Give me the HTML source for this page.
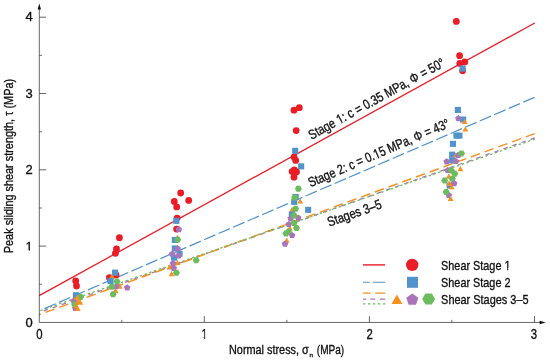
<!DOCTYPE html>
<html lang="en"><head><meta charset="utf-8"><title>Peak sliding shear strength vs normal stress</title>
<style>html,body{margin:0;padding:0;background:#fff}svg{display:block}text{font-family:"Liberation Sans",sans-serif;stroke:#111;stroke-width:.35px}</style></head><body>
<svg width="550" height="362" viewBox="0 0 550 362"  font-size="13.5" fill="#111">
<rect width="550" height="362" fill="#fff"/>
<line x1="39.20" y1="312.53" x2="534.75" y2="137.83" stroke="#a974b9" stroke-width="1.3" stroke-dasharray="4.5 5.06" stroke-dashoffset="4.86"/>
<line x1="39.20" y1="314.71" x2="534.75" y2="133.62" stroke="#f6911e" stroke-width="1.45" stroke-dasharray="9.6 5.01" stroke-dashoffset="7.9"/>
<line x1="39.20" y1="310.93" x2="534.75" y2="139.12" stroke="#6cbc5e" stroke-width="1.3" stroke-dasharray="2.4 2.612" stroke-dashoffset="3.8"/>
<line x1="44.43" y1="308.60" x2="534.75" y2="97.23" stroke="#5293cc" stroke-width="1.25" stroke-dasharray="12.3 3.5" stroke-dashoffset="0"/>
<line x1="39.20" y1="295.60" x2="534.75" y2="22.99" stroke="#ea1d27" stroke-width="1.3"/>
<circle cx="75.7" cy="281.0" r="3.4" fill="#ea1d27"/>
<circle cx="76.5" cy="286.0" r="3.4" fill="#ea1d27"/>
<rect x="72.9" y="292.2" width="6.1" height="6.1" fill="#5293cc"/>
<polygon points="73.7,297.5 77.0,299.9 75.7,303.7 71.7,303.7 70.4,299.9" fill="#a974b9"/>
<polygon points="75.3,304.8 78.6,307.2 77.3,311.0 73.3,311.0 72.0,307.2" fill="#a974b9"/>
<polygon points="78.2,304.6 76.5,307.6 73.0,307.6 71.2,304.6 73.0,301.6 76.5,301.6" fill="#6cbc5e"/>
<polygon points="84.1,297.0 82.3,300.0 78.8,300.0 77.1,297.0 78.8,294.0 82.3,294.0" fill="#6cbc5e"/>
<polygon points="77.0,294.5 80.0,299.7 74.0,299.7" fill="#f6911e"/>
<polygon points="80.3,299.5 83.2,304.7 77.3,304.7" fill="#f6911e"/>
<polygon points="78.2,298.7 81.2,303.9 75.2,303.9" fill="#f6911e"/>
<polygon points="76.3,303.4 79.2,308.6 73.3,308.6" fill="#f6911e"/>
<polygon points="77.7,305.9 80.7,311.1 74.8,311.1" fill="#f6911e"/>
<circle cx="119.4" cy="237.7" r="3.4" fill="#ea1d27"/>
<circle cx="116.5" cy="249.0" r="3.4" fill="#ea1d27"/>
<circle cx="115.4" cy="253.4" r="3.4" fill="#ea1d27"/>
<circle cx="116.0" cy="274.9" r="3.4" fill="#ea1d27"/>
<circle cx="109.4" cy="277.7" r="3.4" fill="#ea1d27"/>
<rect x="112.0" y="269.6" width="6.1" height="6.1" fill="#5293cc"/>
<polygon points="112.0,273.8 115.0,279.0 109.0,279.0" fill="#f6911e"/>
<rect x="107.5" y="277.9" width="6.1" height="6.1" fill="#5293cc"/>
<polygon points="119.7,283.6 122.7,288.8 116.8,288.8" fill="#f6911e"/>
<polygon points="115.5,287.8 118.5,293.0 112.5,293.0" fill="#f6911e"/>
<polygon points="116.2,283.1 119.5,285.5 118.2,289.3 114.2,289.3 112.9,285.5" fill="#a974b9"/>
<polygon points="127.2,284.3 130.5,286.7 129.2,290.5 125.2,290.5 123.9,286.7" fill="#a974b9"/>
<polygon points="120.4,281.5 118.7,284.5 115.2,284.5 113.4,281.5 115.2,278.5 118.7,278.5" fill="#6cbc5e"/>
<polygon points="115.2,286.8 113.5,289.8 110.0,289.8 108.2,286.8 110.0,283.8 113.5,283.8" fill="#6cbc5e"/>
<polygon points="116.6,294.2 114.8,297.2 111.3,297.2 109.6,294.2 111.3,291.2 114.8,291.2" fill="#6cbc5e"/>
<circle cx="180.7" cy="193.0" r="3.4" fill="#ea1d27"/>
<circle cx="188.7" cy="200.4" r="3.4" fill="#ea1d27"/>
<circle cx="174.3" cy="201.5" r="3.4" fill="#ea1d27"/>
<circle cx="176.7" cy="206.9" r="3.4" fill="#ea1d27"/>
<circle cx="177.1" cy="218.1" r="3.4" fill="#ea1d27"/>
<circle cx="176.6" cy="229.1" r="3.4" fill="#ea1d27"/>
<rect x="173.3" y="217.8" width="6.1" height="6.1" fill="#5293cc"/>
<polygon points="178.8,226.0 182.1,228.4 180.8,232.2 176.8,232.2 175.5,228.4" fill="#a974b9"/>
<polygon points="177.5,234.7 180.4,239.9 174.6,239.9" fill="#f6911e"/>
<rect x="171.8" y="236.9" width="6.1" height="6.1" fill="#5293cc"/>
<polygon points="181.2,239.8 179.4,242.8 175.9,242.8 174.2,239.8 175.9,236.8 179.4,236.8" fill="#6cbc5e"/>
<rect x="171.8" y="245.4" width="6.1" height="6.1" fill="#5293cc"/>
<rect x="176.5" y="250.8" width="6.1" height="6.1" fill="#5293cc"/>
<rect x="171.0" y="254.6" width="6.1" height="6.1" fill="#5293cc"/>
<polygon points="177.5,259.9 180.4,265.1 174.6,265.1" fill="#f6911e"/>
<polygon points="169.4,264.2 172.3,269.4 166.5,269.4" fill="#f6911e"/>
<polygon points="171.6,271.1 174.5,276.3 168.7,276.3" fill="#f6911e"/>
<polygon points="177.7,245.3 181.0,247.7 179.7,251.5 175.7,251.5 174.4,247.7" fill="#a974b9"/>
<polygon points="172.2,250.5 175.5,252.9 174.2,256.7 170.2,256.7 168.9,252.9" fill="#a974b9"/>
<polygon points="178.8,252.4 182.1,254.8 180.8,258.6 176.8,258.6 175.5,254.8" fill="#a974b9"/>
<polygon points="173.0,259.9 176.3,262.3 175.0,266.1 171.0,266.1 169.7,262.3" fill="#a974b9"/>
<polygon points="173.8,264.9 177.1,267.3 175.8,271.1 171.8,271.1 170.5,267.3" fill="#a974b9"/>
<polygon points="179.9,272.7 178.2,275.7 174.7,275.7 172.9,272.7 174.7,269.7 178.2,269.7" fill="#6cbc5e"/>
<polygon points="199.7,260.2 197.9,263.2 194.4,263.2 192.7,260.2 194.4,257.2 197.9,257.2" fill="#6cbc5e"/>
<circle cx="299.3" cy="107.7" r="3.4" fill="#ea1d27"/>
<circle cx="294.0" cy="110.2" r="3.4" fill="#ea1d27"/>
<circle cx="296.2" cy="130.6" r="3.4" fill="#ea1d27"/>
<rect x="292.1" y="147.8" width="6.1" height="6.1" fill="#5293cc"/>
<circle cx="294.0" cy="157.1" r="3.4" fill="#ea1d27"/>
<circle cx="295.7" cy="160.4" r="3.4" fill="#ea1d27"/>
<rect x="298.1" y="163.3" width="6.1" height="6.1" fill="#5293cc"/>
<circle cx="294.3" cy="169.8" r="3.4" fill="#ea1d27"/>
<circle cx="292.1" cy="171.6" r="3.4" fill="#ea1d27"/>
<circle cx="296.5" cy="171.9" r="3.4" fill="#ea1d27"/>
<circle cx="294.0" cy="177.2" r="3.4" fill="#ea1d27"/>
<polygon points="301.9,188.8 300.1,191.8 296.6,191.8 294.9,188.8 296.6,185.8 300.1,185.8" fill="#6cbc5e"/>
<rect x="292.6" y="193.9" width="6.1" height="6.1" fill="#5293cc"/>
<rect x="291.2" y="198.8" width="6.1" height="6.1" fill="#5293cc"/>
<polygon points="300.2,198.4 303.1,203.6 297.2,203.6" fill="#f6911e"/>
<polygon points="298.2,197.5 296.4,200.5 292.9,200.5 291.2,197.5 292.9,194.5 296.4,194.5" fill="#6cbc5e"/>
<polygon points="292.1,206.7 295.1,211.9 289.2,211.9" fill="#f6911e"/>
<polygon points="299.1,208.7 297.4,211.7 293.9,211.7 292.1,208.7 293.9,205.7 297.4,205.7" fill="#6cbc5e"/>
<rect x="305.1" y="206.8" width="6.1" height="6.1" fill="#5293cc"/>
<rect x="288.8" y="211.5" width="6.1" height="6.1" fill="#5293cc"/>
<polygon points="290.7,215.2 294.0,217.6 292.7,221.4 288.7,221.4 287.4,217.6" fill="#a974b9"/>
<polygon points="298.2,214.4 301.5,216.8 300.2,220.6 296.2,220.6 294.9,216.8" fill="#a974b9"/>
<polygon points="289.9,225.3 292.8,230.5 286.9,230.5" fill="#f6911e"/>
<polygon points="288.8,220.9 292.1,223.3 290.8,227.1 286.8,227.1 285.5,223.3" fill="#a974b9"/>
<polygon points="297.7,215.6 295.9,218.6 292.4,218.6 290.7,215.6 292.4,212.6 295.9,212.6" fill="#6cbc5e"/>
<polygon points="297.6,222.9 295.9,225.9 292.4,225.9 290.6,222.9 292.4,219.9 295.9,219.9" fill="#6cbc5e"/>
<polygon points="300.0,227.9 298.2,230.9 294.8,230.9 293.0,227.9 294.8,224.9 298.2,224.9" fill="#6cbc5e"/>
<polygon points="289.5,233.6 287.8,236.6 284.2,236.6 282.5,233.6 284.2,230.6 287.8,230.6" fill="#6cbc5e"/>
<polygon points="292.1,231.4 290.4,234.4 286.9,234.4 285.1,231.4 286.9,228.4 290.4,228.4" fill="#6cbc5e"/>
<polygon points="292.1,231.9 295.4,234.3 294.1,238.1 290.1,238.1 288.8,234.3" fill="#a974b9"/>
<polygon points="286.7,237.6 289.6,242.8 283.8,242.8" fill="#f6911e"/>
<polygon points="285.0,240.6 288.3,243.0 287.0,246.8 283.0,246.8 281.7,243.0" fill="#a974b9"/>
<circle cx="456.3" cy="21.4" r="3.4" fill="#ea1d27"/>
<circle cx="459.6" cy="55.7" r="3.4" fill="#ea1d27"/>
<circle cx="464.8" cy="61.9" r="3.4" fill="#ea1d27"/>
<circle cx="459.8" cy="63.4" r="3.4" fill="#ea1d27"/>
<circle cx="462.6" cy="70.7" r="3.4" fill="#ea1d27"/>
<rect x="459.6" y="65.5" width="6.1" height="6.1" fill="#5293cc"/>
<rect x="454.8" y="106.9" width="6.1" height="6.1" fill="#5293cc"/>
<rect x="460.1" y="116.5" width="6.1" height="6.1" fill="#5293cc"/>
<polygon points="458.4,115.1 461.7,117.5 460.4,121.3 456.4,121.3 455.1,117.5" fill="#a974b9"/>
<polygon points="464.6,118.9 467.6,124.1 461.7,124.1" fill="#f6911e"/>
<polygon points="465.3,126.4 468.2,131.6 462.4,131.6" fill="#f6911e"/>
<rect x="453.4" y="132.6" width="6.1" height="6.1" fill="#5293cc"/>
<rect x="456.4" y="132.6" width="6.1" height="6.1" fill="#5293cc"/>
<rect x="449.9" y="140.8" width="6.1" height="6.1" fill="#5293cc"/>
<rect x="449.1" y="151.6" width="6.1" height="6.1" fill="#5293cc"/>
<polygon points="455.8,152.4 458.8,157.6 452.9,157.6" fill="#f6911e"/>
<polygon points="458.2,151.8 461.5,154.2 460.2,158.0 456.2,158.0 454.9,154.2" fill="#a974b9"/>
<polygon points="465.0,153.4 463.2,156.4 459.8,156.4 458.0,153.4 459.8,150.4 463.2,150.4" fill="#6cbc5e"/>
<rect x="449.1" y="157.3" width="6.1" height="6.1" fill="#5293cc"/>
<polygon points="446.7,158.2 450.0,160.6 448.7,164.4 444.7,164.4 443.4,160.6" fill="#a974b9"/>
<polygon points="455.8,157.8 459.1,160.2 457.8,164.0 453.8,164.0 452.5,160.2" fill="#a974b9"/>
<polygon points="460.4,166.0 463.3,171.2 457.4,171.2" fill="#f6911e"/>
<polygon points="447.7,166.9 451.0,169.3 449.7,173.1 445.7,173.1 444.4,169.3" fill="#a974b9"/>
<polygon points="454.9,170.5 453.1,173.5 449.6,173.5 447.9,170.5 449.6,167.5 453.1,167.5" fill="#6cbc5e"/>
<polygon points="458.3,173.7 456.6,176.7 453.1,176.7 451.3,173.7 453.1,170.7 456.6,170.7" fill="#6cbc5e"/>
<polygon points="448.8,173.6 451.8,178.8 445.9,178.8" fill="#f6911e"/>
<polygon points="455.8,178.7 454.1,181.7 450.6,181.7 448.8,178.7 450.6,175.7 454.1,175.7" fill="#6cbc5e"/>
<polygon points="448.1,180.5 446.4,183.5 442.9,183.5 441.1,180.5 442.9,177.5 446.4,177.5" fill="#6cbc5e"/>
<rect x="446.6" y="182.5" width="6.1" height="6.1" fill="#5293cc"/>
<polygon points="454.2,180.0 457.5,182.4 456.2,186.2 452.2,186.2 450.9,182.4" fill="#a974b9"/>
<polygon points="449.1,180.6 452.1,185.8 446.2,185.8" fill="#f6911e"/>
<polygon points="451.7,184.0 454.6,189.2 448.8,189.2" fill="#f6911e"/>
<polygon points="448.8,191.8 452.1,194.2 450.8,198.0 446.8,198.0 445.5,194.2" fill="#a974b9"/>
<polygon points="449.7,192.1 447.9,195.1 444.4,195.1 442.7,192.1 444.4,189.1 447.9,189.1" fill="#6cbc5e"/>
<polygon points="450.6,195.8 453.6,201.0 447.7,201.0" fill="#f6911e"/>
<g stroke="#333" stroke-width="0.75" fill="none">
<path d="M39.3 8 V322.45 H541"/>
<path d="M39.3 246.1 h6.8"/>
<path d="M39.3 169.8 h6.8"/>
<path d="M39.3 93.5 h6.8"/>
<path d="M39.3 17.2 h6.8"/>
<path d="M39.3 284.3 h2.6" stroke-width="0.7"/>
<path d="M39.3 208.0 h2.6" stroke-width="0.7"/>
<path d="M39.3 131.7 h2.6" stroke-width="0.7"/>
<path d="M39.3 55.4 h2.6" stroke-width="0.7"/>
<path d="M204.3 322.45 v-6.3"/>
<path d="M369.4 322.45 v-6.3"/>
<path d="M534.5 322.45 v-6.3"/>
<path d="M121.8 322.45 v-2.6" stroke-width="0.7"/>
<path d="M286.9 322.45 v-2.6" stroke-width="0.7"/>
<path d="M451.9 322.45 v-2.6" stroke-width="0.7"/>
</g>
<polygon points="39.3,3.6 41.0,9.6 37.599999999999994,9.6" fill="#111"/>
<polygon points="545.8,322.45 539.6,320.65 539.6,324.25" fill="#111"/>
<defs><clipPath id="one"><polygon points="-3.09,-9.89 0.86,-9.89 0.86,0.07 -0.41,0.07 -0.41,-1.05 -3.09,-1.05"/></clipPath></defs>
<text transform="translate(29.2,326.9) scale(0.96,0.97)" text-anchor="middle">0</text>
<text transform="translate(29.2,250.5) scale(0.96,0.97)" text-anchor="middle" clip-path="url(#one)">1</text>
<text transform="translate(29.2,174.1) scale(0.96,0.97)" text-anchor="middle">2</text>
<text transform="translate(29.2,97.6) scale(0.96,0.97)" text-anchor="middle">3</text>
<text transform="translate(29.2,21.2) scale(0.96,0.97)" text-anchor="middle">4</text>
<text transform="translate(39.5,339.0) scale(0.84,1.06)" text-anchor="middle">0</text>
<text transform="translate(204.6,339.0) scale(0.84,1.06)" text-anchor="middle" clip-path="url(#one)">1</text>
<text transform="translate(369.6,339.0) scale(0.84,1.06)" text-anchor="middle">2</text>
<text transform="translate(533.8,339.0) scale(0.84,1.06)" text-anchor="middle">3</text>
<text transform="translate(13.1,253.2) rotate(-90)" textLength="174.3" lengthAdjust="spacingAndGlyphs">Peak sliding shear strength, τ (MPa)</text>
<text transform="translate(229,353.8) scale(0.805,1)">Normal stress, σ</text>
<text x="309.4" y="356.8" font-size="6.2">n</text>
<text x="316.8" y="353.8" textLength="27.4" lengthAdjust="spacingAndGlyphs">(MPa)</text>
<text transform="translate(311.5,139.9) rotate(-28.9)" textLength="153.5" lengthAdjust="spacingAndGlyphs">Stage 1: c = 0.35 MPa, Φ = 50°</text>
<text transform="translate(310.5,187.3) rotate(-23.3)" textLength="152.5" lengthAdjust="spacingAndGlyphs">Stage 2: c = 0.15 MPa, Φ = 43°</text>
<text transform="translate(329.2,226.8) rotate(-19.5)" textLength="56.6" lengthAdjust="spacingAndGlyphs">Stages 3–5</text>
<line x1="363" y1="264.9" x2="385.2" y2="264.9" stroke="#ea1d27" stroke-width="1.4"/>
<path d="M363 282.3h6.6M372.9 282.3h12.3" stroke="#5293cc" stroke-width="1.1"/>
<path d="M363 293.1h7.8M375.2 293.1h10" stroke="#f6911e" stroke-width="1.3"/>
<path d="M363 299.1h3.3M370.3 299.1h4.9M379.9 299.1h5.3" stroke="#a974b9" stroke-width="1.3"/>
<path d="M363 303.9h22.3" stroke="#6cbc5e" stroke-width="1.3" stroke-dasharray="2.3 2.7"/>
<circle cx="412.2" cy="264.9" r="6.2" fill="#ea1d27"/>
<rect x="407.0" y="276.8" width="11" height="11" fill="#5293cc"/>
<polygon points="396.9,294.4 402.3,303.9 391.5,303.9" fill="#f6911e"/>
<polygon points="412.3,293.4 418.3,297.7 416.0,304.7 408.6,304.7 406.3,297.7" fill="#a974b9"/>
<polygon points="435.1,299.1 431.8,304.6 425.4,304.6 422.2,299.1 425.4,293.5 431.8,293.5" fill="#6cbc5e"/>
<text x="441.1" y="269.6" textLength="69.4" lengthAdjust="spacingAndGlyphs">Shear Stage 1</text>
<text x="441.1" y="287.1" textLength="69.4" lengthAdjust="spacingAndGlyphs">Shear Stage 2</text>
<text x="441.1" y="303.9" textLength="87.5" lengthAdjust="spacingAndGlyphs">Shear Stages 3–5</text>
<g transform="translate(311.5,139.9) rotate(-28.9)" fill="#fff"><rect x="32.44" y="-1.30" width="2.13" height="1.7"/><rect x="35.66" y="-1.30" width="2.05" height="1.7"/></g>
<g transform="translate(310.5,187.3) rotate(-23.3)" fill="#fff"><rect x="71.49" y="-1.30" width="2.12" height="1.7"/><rect x="74.69" y="-1.30" width="2.04" height="1.7"/></g>
<g fill="#fff"><rect x="505.03" y="268.00" width="2.10" height="3.0"/><rect x="508.20" y="268.00" width="2.02" height="3.0"/></g>
</svg></body></html>
